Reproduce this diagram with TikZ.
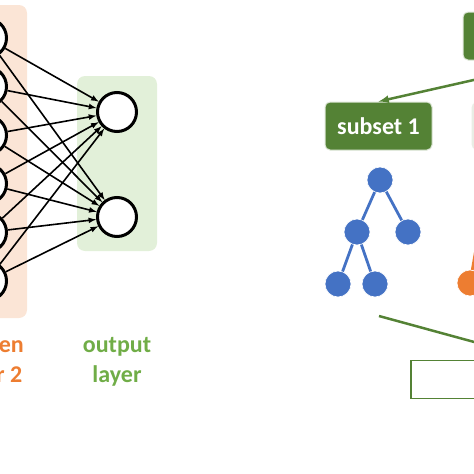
\documentclass[tikz,border=0pt]{standalone}
\usepackage{fontspec}
\setmainfont{Carlito}
\usepackage{tikz}
\usetikzlibrary{arrows, positioning, calc}

\definecolor{hiddenbg}{HTML}{FBE5D6}
\definecolor{outputbg}{HTML}{E2F0D9}
\definecolor{hiddentext}{HTML}{ED7D31}
\definecolor{outputtext}{HTML}{70AD47}
\definecolor{boxgreen}{HTML}{548235}
\definecolor{boxlight}{HTML}{E9EDE5}
\definecolor{treeblue}{HTML}{4472C4}
\definecolor{treeorange}{HTML}{ED7D31}

\begin{document}
\begin{tikzpicture}[x=1pt, y=-1pt, node distance=2.5cm, auto,
    font=\bfseries\fontsize{24}{30}\selectfont,
    neuron/.style={draw, circle, line width=3pt, minimum size=39pt, inner sep=0pt, fill=white},
    leaf/.style={circle, draw=white, line width=0.6pt, fill=treeblue, minimum size=26pt, inner sep=0pt},
    subsetbox/.style={rectangle, rounded corners=5pt, draw=white!80!boxgreen, line width=1pt, fill=boxgreen, text=white, minimum width=107pt, minimum height=48pt},
    link/.style={-latex, line width=1.6pt},
    treeedge/.style={line width=2.8pt}]
    \clip (0,0) rectangle (474,474);

    % Layers
    \fill[hiddenbg, rounded corners=8pt] (-60,5) rectangle (27,318);
    \fill[outputbg, rounded corners=8pt] (77,76) rectangle (157,251);
    \foreach \i in {1,...,6}
        \node[neuron] (h\i) at (-13, {38+48.6*(\i-1)}) {};
    \node[neuron] (o1) at (117,112) {};
    \node[neuron] (o2) at (117,217) {};
    \node[text=hiddentext, align=center] (hiddenlabel) at (-11,361) {hidden\\layer 2};
    \node[text=outputtext, align=center] (outputlabel) at (117,362) {output\\layer};

    % Connections
    \foreach \i in {1,...,6}
        \foreach \j in {1,2}
            \draw[link] (h\i) -- (o\j);

    % Subsets
    \node[subsetbox, minimum width=194pt] (root) at (560,36) {};
    \node[subsetbox] (sub1) at (378.5,126) {subset 1};
    \node[subsetbox, fill=boxlight, draw=white] (sub2) at (524.5,126) {};
    \draw[-latex, boxgreen, line width=2.5pt] (root.south) -- (sub1.north);

    % Trees
    \node[leaf] (t1) at (380,180) {};
    \node[leaf] (t2) at ($(t1)+(-23,52)$) {};
    \node[leaf] (t3) at ($(t1)+(28,52)$) {};
    \node[leaf] (t4) at ($(t2)+(-19,52)$) {};
    \node[leaf] (t5) at ($(t2)+(18,52)$) {};
    \draw[treeedge, treeblue] (t1) -- (t2);
    \draw[treeedge, treeblue] (t1) -- (t3);
    \draw[treeedge, treeblue] (t2) -- (t4);
    \draw[treeedge, treeblue] (t2) -- (t5);
    \node[leaf, fill=treeorange] (u1) at (488,180) {};
    \node[leaf, fill=treeorange] (u4) at (470,283) {};
    \draw[treeedge, treeorange] (u1) -- (u4);

    % Merge
    \node[draw=boxgreen, line width=1.6pt, minimum width=256pt, minimum height=38pt] (final) at (539,379.5) {};
    \coordinate (merge1) at (379,316);
    \draw[-latex, boxgreen, line width=2.5pt] (merge1) -- (final.north);
\end{tikzpicture}
\end{document}
